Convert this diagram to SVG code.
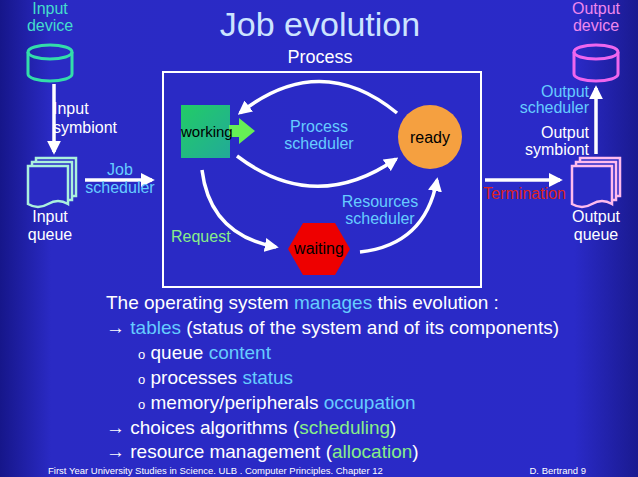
<svg xmlns="http://www.w3.org/2000/svg" width="638" height="477" viewBox="0 0 638 477">
<defs>
<linearGradient id="bg" x1="0" x2="1" y1="0" y2="0">
<stop offset="0" stop-color="#16168a"/><stop offset="0.08" stop-color="#2a2ac4"/><stop offset="0.9" stop-color="#2a2ac8"/><stop offset="1" stop-color="#1a1a90"/>
</linearGradient>
<linearGradient id="gw" x1="0" x2="1" y1="0" y2="1"><stop offset="0" stop-color="#22cc66"/><stop offset="1" stop-color="#22aa99"/></linearGradient>
<marker id="ah" viewBox="0 0 10 10" refX="8" refY="5" markerWidth="4" markerHeight="4" orient="auto"><path d="M0,0L10,5L0,10z" fill="#fff"/></marker>
</defs>
<style>
text{font-family:"Liberation Sans",Arial,sans-serif}
.w{fill:#fff}.c{fill:#66ccff}.t{fill:#44ddcc}.p{fill:#ee88ee}.g{fill:#88ee88}.r{fill:#dd2222}
.ln{stroke:#fff;stroke-width:3.5;fill:none;marker-end:url(#ah)}
.s{font-size:16px}.m{font-size:19px}
</style>
<rect width="638" height="477" fill="url(#bg)"/>
<text x="320" y="36" font-size="34" text-anchor="middle" fill="#cce4ff">Job evolution</text>
<text x="320" y="63" font-size="18" text-anchor="middle" class="w">Process</text>
<rect x="163" y="72" width="318" height="215" fill="none" stroke="#fff" stroke-width="2"/>
<g id="input-device"><text x="50" y="14" class="s t" text-anchor="middle">Input</text><text x="50" y="31" class="s t" text-anchor="middle">device</text>
<path d="M28,52 v22 a22,7 0 0 0 44,0 v-22" fill="none" stroke="#33ddaa" stroke-width="3"/><ellipse cx="50" cy="52" rx="22" ry="7" fill="none" stroke="#33ddaa" stroke-width="3"/></g>
<g id="input-queue" fill="#2a2ac4" stroke="#aaf0dd" stroke-width="2.5"><rect x="36" y="158" width="40" height="38"/><rect x="32" y="162" width="40" height="38"/><path d="M28,166 h40 v38 q-10,-6 -20,0 t-20,0z"/>
<text x="50" y="222" class="s w" text-anchor="middle" stroke="none">Input</text><text x="50" y="240" class="s w" text-anchor="middle" stroke="none">queue</text></g>
<g id="output-device"><text x="596" y="14" class="s p" text-anchor="middle">Output</text><text x="596" y="31" class="s p" text-anchor="middle">device</text>
<path d="M574,52 v22 a22,7 0 0 0 44,0 v-22" fill="none" stroke="#ee66ee" stroke-width="3"/><ellipse cx="596" cy="52" rx="22" ry="7" fill="none" stroke="#ee66ee" stroke-width="3"/></g>
<g id="output-queue" fill="#2a2ac4" stroke="#ffbbee" stroke-width="2.5"><rect x="580" y="158" width="40" height="38"/><rect x="576" y="162" width="40" height="38"/><path d="M572,166 h40 v38 q-10,-6 -20,0 t-20,0z"/>
<text x="596" y="222" class="s w" text-anchor="middle" stroke="none">Output</text><text x="596" y="240" class="s w" text-anchor="middle" stroke="none">queue</text></g>
<g id="working"><rect x="181" y="105" width="49" height="53" fill="url(#gw)"/><path d="M229,125 h10 v-7 l16,13 l-16,13 v-7 h-10z" fill="#66ee55"/><text x="181" y="137" font-size="15" fill="#000">working</text></g>
<g id="ready"><circle cx="430" cy="137" r="32" fill="#f5a040"/><text x="430" y="143" class="s" text-anchor="middle" fill="#000">ready</text></g>
<g id="waiting"><path d="M288,249 l15,-26 h32 l15,26 l-15,26 h-32z" fill="#ee0000"/><text x="319" y="254" class="s" text-anchor="middle" fill="#000">waiting</text></g>
<g id="connectors">
<path class="ln" d="M54,84 V152"/>
<path class="ln" d="M85,180 H152"/>
<path class="ln" d="M485,180 H560"/>
<path class="ln" d="M596,154 V88"/>
<path class="ln" d="M397,113 Q320,50 240,113"/>
<path class="ln" d="M237,156 Q315,215 396,159"/>
<path class="ln" d="M202,170 Q210,235 276,247"/>
<path class="ln" d="M360,252 Q425,245 437,180"/>
</g>
<g id="labels">
<text x="53" y="114" class="s w">Input</text><text x="53" y="133" class="s w">symbiont</text>
<text x="120" y="175" class="s c" text-anchor="middle">Job</text><text x="120" y="193" class="s c" text-anchor="middle">scheduler</text>
<text x="319" y="132" class="s c" text-anchor="middle">Process</text><text x="319" y="149" class="s c" text-anchor="middle">scheduler</text>
<text x="380" y="207" class="s c" text-anchor="middle">Resources</text><text x="380" y="224" class="s c" text-anchor="middle">scheduler</text>
<text x="171" y="242" class="s g">Request</text>
<text x="566" y="199" class="s r" text-anchor="end">Termination</text>
<text x="589" y="97" class="s c" text-anchor="end">Output</text><text x="589" y="113" class="s c" text-anchor="end">scheduler</text>
<text x="589" y="138" class="s w" text-anchor="end">Output</text><text x="589" y="155" class="s w" text-anchor="end">symbiont</text>
</g>
<g id="body" class="m">
<text x="106" y="309" class="w">The operating system <tspan class="c">manages</tspan> this evolution :</text>
<text x="106" y="334" class="w">→ <tspan class="c">tables</tspan> (status of the system and of its components)</text>
<text x="138" y="359" class="w"><tspan font-size="13">o</tspan> queue <tspan class="c">content</tspan></text>
<text x="138" y="384" class="w"><tspan font-size="13">o</tspan> processes <tspan class="c">status</tspan></text>
<text x="138" y="409" class="w"><tspan font-size="13">o</tspan> memory/peripherals <tspan class="c">occupation</tspan></text>
<text x="106" y="434" class="w">→ choices  algorithms (<tspan class="g">scheduling</tspan>)</text>
<text x="106" y="458" class="w">→ resource management (<tspan class="g">allocation</tspan>)</text>
</g>
<text x="48" y="474" font-size="9.5" class="w">First Year University Studies in Science. ULB . Computer Principles. Chapter 12</text>
<text x="586" y="474" font-size="9.5" class="w" text-anchor="end">D. Bertrand 9</text>
</svg>
